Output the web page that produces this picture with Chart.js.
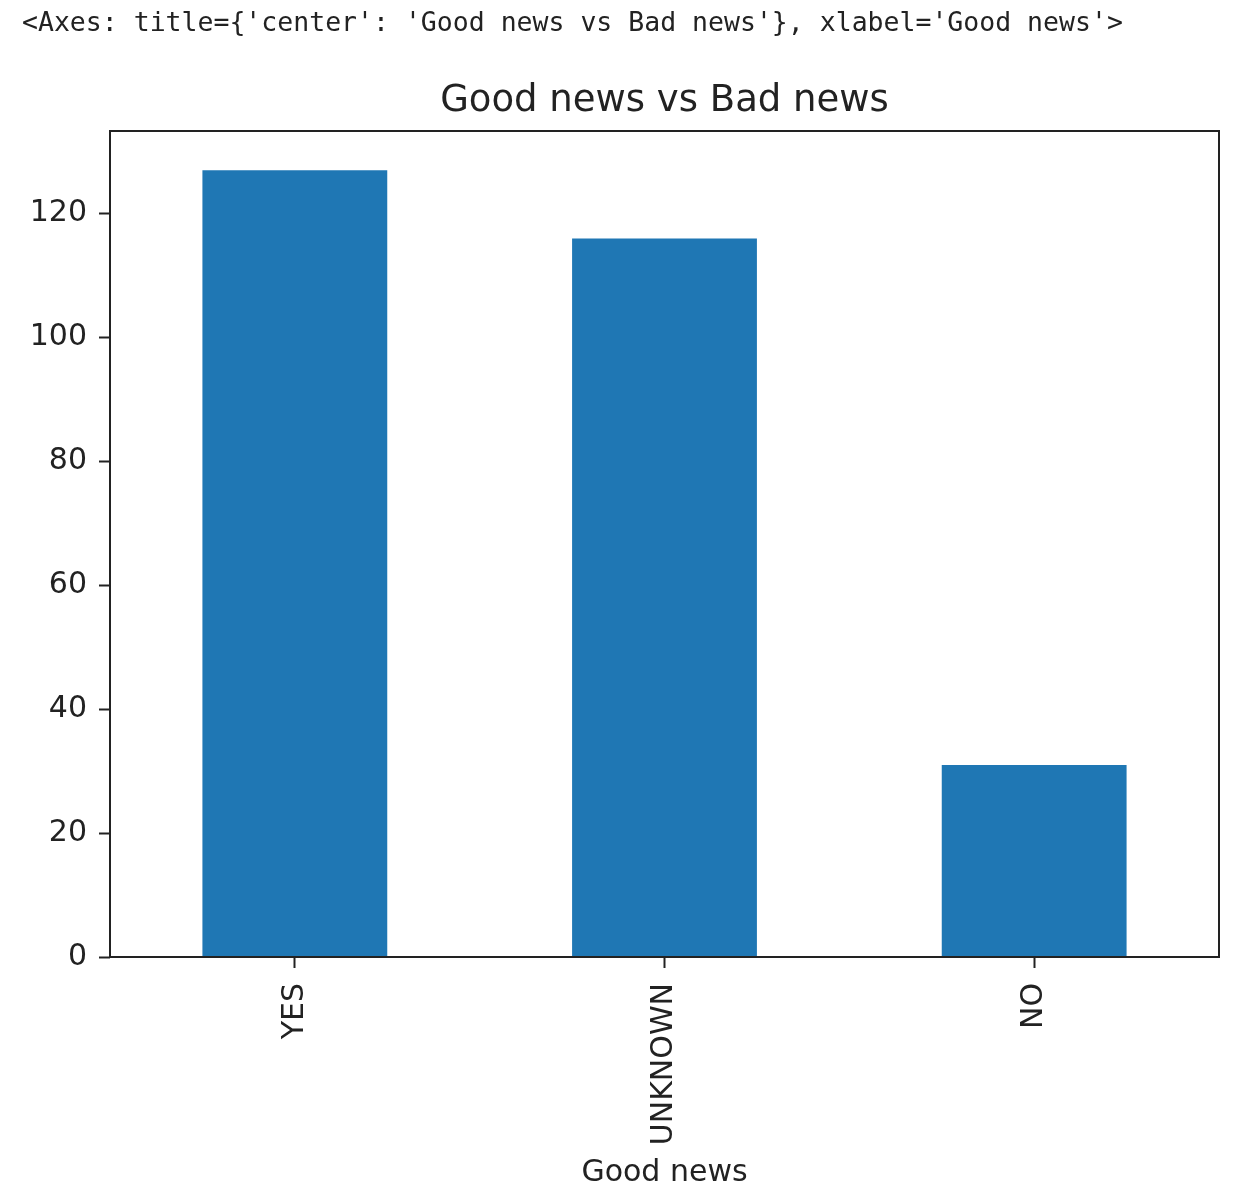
<!DOCTYPE html>
<html>
<head>
<meta charset="utf-8">
<script src="https://cdn.jsdelivr.net/npm/chart.js@4"></script>
<style>
  html, body { margin: 0; padding: 0; background: #ffffff; }
  #wrap { position: relative; width: 1248px; height: 1191px; }
  #repr { position: absolute; left: 22px; top: 6px; font-family: "DejaVu Sans Mono", monospace; font-size: 26.5px; color: #222; white-space: pre; line-height: 32px; }
  canvas { position: absolute; left: 0; top: 0; }
</style>
</head>
<body>
<div id="wrap">
  <canvas id="c" width="1248" height="1191"></canvas>
  <div id="repr">&lt;Axes: title={'center': 'Good news vs Bad news'}, xlabel='Good news'&gt;</div>
</div>
<script>
const categories = ["YES", "UNKNOWN", "NO"];
const counts = [127, 116, 31];
const yTickValues = [0, 20, 40, 60, 80, 100, 120];
const chartTitle = "Good news vs Bad news";
const xAxisLabel = "Good news";

const frame = {
  id: 'frame',
  afterDraw(chart) {
    const { ctx, chartArea: a } = chart;
    ctx.save();
    ctx.strokeStyle = '#222';
    ctx.lineWidth = 2;
    ctx.strokeRect(a.left, a.top, a.right - a.left, a.bottom - a.top);
    ctx.restore();
  }
};

new Chart(document.getElementById('c'), {
  type: 'bar',
  data: {
    labels: categories,
    datasets: [{
      data: counts,
      backgroundColor: '#1f77b4',
      borderWidth: 0,
      barPercentage: 0.5,
      categoryPercentage: 1.0
    }]
  },
  options: {
    responsive: false,
    animation: false,
    devicePixelRatio: 1,
    layout: { padding: { top: 0, left: 0, right: 29, bottom: 0 } },
    plugins: {
      legend: { display: false },
      tooltip: { enabled: false },
      title: {
        display: true,
        text: chartTitle,
        fullSize: false,
        color: '#222',
        font: { family: 'DejaVu Sans', size: 37, weight: 'normal', lineHeight: 1.2 },
        padding: { top: 79, bottom: 7.6 }
      }
    },
    scales: {
      x: {
        offset: true,
        grid: { display: true, offset: false, drawOnChartArea: false, drawTicks: true, tickLength: 11, tickColor: '#222', tickWidth: 2 },
        border: { display: false },
        ticks: {
          color: '#222',
          maxRotation: 90, minRotation: 90,
          padding: 15,
          font: { family: 'DejaVu Sans', size: 30 }
        },
        title: {
          display: true,
          text: xAxisLabel,
          color: '#222',
          font: { family: 'DejaVu Sans', size: 30, lineHeight: 1.2 },
          padding: { top: 4, bottom: 0 }
        },
        afterFit(scale) { scale.height = 234; }
      },
      y: {
        min: 0,
        max: 133.35,
        grid: { display: true, drawOnChartArea: false, drawTicks: true, tickLength: 11, tickColor: '#222', tickWidth: 2 },
        border: { display: false },
        ticks: {
          color: '#222',
          padding: 12,
          font: { family: 'DejaVu Sans', size: 30 }
        },
        afterBuildTicks(scale) {
          scale.ticks = yTickValues.map(v => ({ value: v }));
        },
        afterFit(scale) { scale.width = 110; }
      }
    }
  },
  plugins: [frame]
});
</script>
</body>
</html>
